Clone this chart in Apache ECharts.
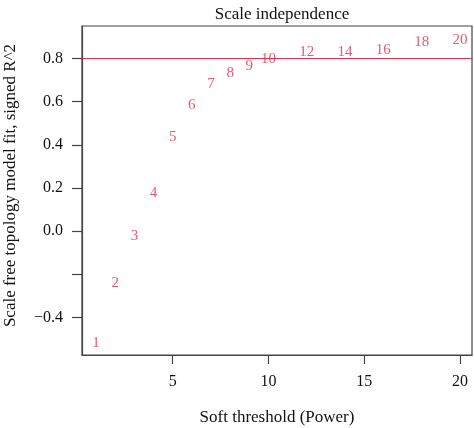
<!DOCTYPE html>
<html><head><meta charset="utf-8">
<script src="https://cdn.jsdelivr.net/npm/echarts@6/dist/echarts.min.js"></script>
<style>html,body{margin:0;padding:0;background:#fff}#c{width:474px;height:428px}</style>
</head><body><div id="c"></div>
<script>
const powers = [1,2,3,4,5,6,7,8,9,10,12,14,16,18,20];
const signedR2 = [-0.516,-0.242,-0.022,0.177,0.434,0.585,0.682,0.733,0.764,0.798,0.828,0.831,0.840,0.874,0.886];
const xTicks = [5,10,15,20];
const yTicks = [-0.4,-0.2,0.0,0.2,0.4,0.6,0.8];
const yTickLabels = {"-0.4":"\u22120.4","-0.2":"","0":"0.0","0.2":"0.2","0.4":"0.4","0.6":"0.6","0.8":"0.8"};
const cutoff = 0.8;
const red = '#e0304c';
const font = '"Liberation Serif","DejaVu Serif",serif';
const chart = echarts.init(document.getElementById('c'));
chart.setOption({
  animation:false,
  backgroundColor:'#fff',
  title:{text:'Scale independence',left:277,top:1,textAlign:'center',textStyle:{fontFamily:font,fontWeight:'normal',fontSize:17,color:'#111'}},
  grid:{left:82,top:26,right:2,bottom:73,show:true,borderColor:'#444',borderWidth:1.2,outerBoundsMode:'none',containLabel:false},
  xAxis:{type:'value',min:0.265,max:20.63,
    name:'Soft threshold (Power)',nameLocation:'middle',nameGap:54,
    nameTextStyle:{fontFamily:font,fontSize:17,color:'#111'},
    axisLine:{show:true,onZero:false,lineStyle:{color:'#444',width:1.2}},
    axisTick:{show:true,length:9,lineStyle:{color:'#444',width:1.2},customValues:xTicks},
    axisLabel:{fontFamily:font,fontSize:16,color:'#111',margin:19,customValues:xTicks},
    splitLine:{show:false}},
  yAxis:{type:'value',min:-0.573,max:0.95,
    name:'Scale free topology model fit, signed R^2',nameLocation:'middle',nameGap:63,
    nameTextStyle:{fontFamily:font,fontSize:17,color:'#111',padding:[0,0,0,10]},
    axisLine:{show:true,onZero:false,lineStyle:{color:'#444',width:1.2}},
    axisTick:{show:true,length:10,lineStyle:{color:'#444',width:1.2},customValues:yTicks},
    axisLabel:{fontFamily:font,fontSize:16,color:'#111',margin:19,customValues:yTicks,
      formatter:v=>{const k=String(Math.round(v*10)/10);return yTickLabels[k]!==undefined?yTickLabels[k]:v.toFixed(1);}},
    splitLine:{show:false}},
  series:[{type:'scatter',data:powers.map((p,i)=>[p,signedR2[i]]),
    symbolSize:0,
    label:{show:true,position:'inside',formatter:p=>String(p.value[0]),fontFamily:font,fontSize:15,color:red},
    markLine:{silent:true,symbol:'none',label:{show:false},lineStyle:{color:red,width:1,type:'solid'},data:[{yAxis:cutoff}]}
  }]
});
</script></body></html>
